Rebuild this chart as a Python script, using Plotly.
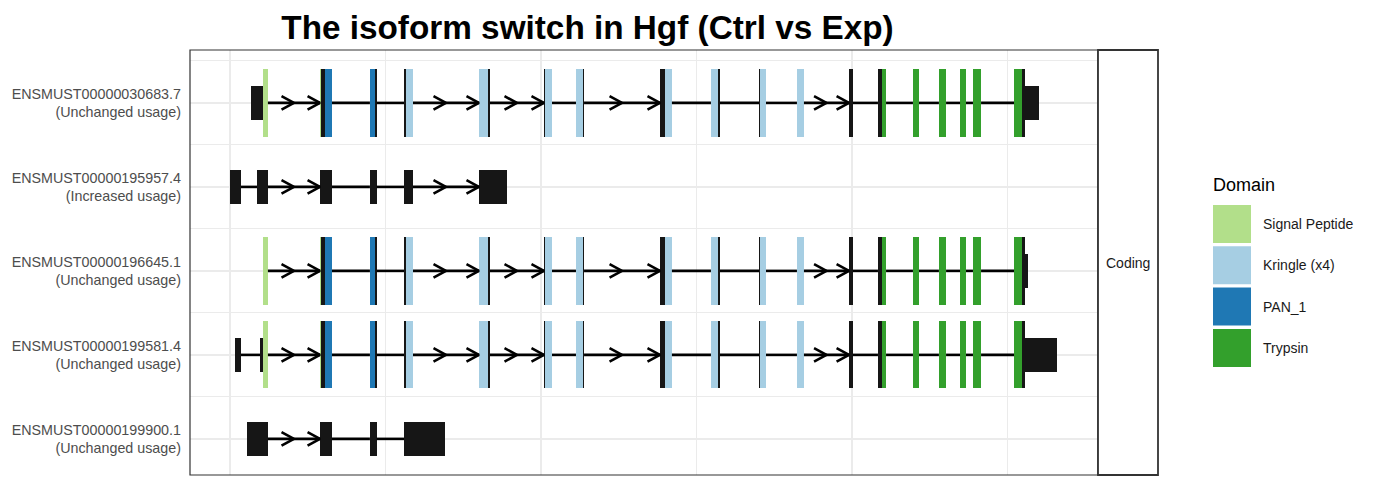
import plotly.graph_objects as go

# transcripts, top to bottom
transcript_ids = ["ENSMUST00000030683.7", "ENSMUST00000195957.4", "ENSMUST00000196645.1",
                  "ENSMUST00000199581.4", "ENSMUST00000199900.1"]
usage = ["Unchanged usage", "Increased usage", "Unchanged usage",
         "Unchanged usage", "Unchanged usage"]

# exon coordinates (kb, introns rescaled)
core_exons = [(5.79, 6.56), (9.00, 9.43), (11.19, 11.77), (16.01, 16.72), (20.19, 20.71),
              (22.25, 22.77), (27.65, 28.42), (30.93, 31.51), (34.02, 34.47), (36.46, 36.91),
              (39.81, 40.06), (41.67, 42.19), (43.92, 44.31), (45.59, 46.05), (46.95, 47.33),
              (47.78, 48.30)]
exons_30683 = [(1.35, 2.44)] + core_exons + [(50.42, 52.03)]
exons_195957 = [(0.00, 0.71), (1.74, 2.44), (5.79, 6.56), (9.00, 9.43), (11.19, 11.77),
                (16.01, 17.81)]
exons_196645 = [(2.12, 2.44)] + core_exons + [(50.42, 51.32)]
exons_199581 = [(0.32, 0.71), (1.93, 2.44)] + core_exons + [(50.42, 53.18)]
exons_199900 = [(1.09, 2.44), (5.79, 6.56), (9.00, 9.43), (11.19, 13.83)]
all_exons = [exons_30683, exons_195957, exons_196645, exons_199581, exons_199900]

# ORF (None = non coding)
orf_start = [2.12, None, 2.12, 2.12, None]
orf_end = [51.13, None, 51.13, 51.13, None]

# protein domains (same for all coding isoforms)
domain_names = ["Signal Peptide", "Kringle (x4)", "PAN_1", "Trypsin"]
domain_colors = ["#b2df8a", "#a6cee3", "#1f78b4", "#33a02c"]
signal_peptide = [(2.12, 2.44), (5.79, 5.85)]
kringle = [(11.32, 11.77), (16.01, 16.57), (20.28, 20.71), (22.25, 22.68),
           (27.97, 28.42), (30.93, 31.38), (34.08, 34.47), (36.46, 36.91)]
pan_1 = [(6.11, 6.56), (9.00, 9.34)]
trypsin = [(41.93, 42.19), (43.92, 44.31), (45.59, 46.05), (46.95, 47.33),
           (47.78, 48.30), (50.42, 50.93)]
domain_parts = [signal_peptide, kringle, pan_1, trypsin]

exon_col = "#161616"
arrow_min_intron = 2.7

fig = go.Figure()

# introns + direction arrows
line_x, line_y, arr_x, arr_y = [], [], [], []
for row, exons in enumerate(all_exons, start=1):
    for (a1, b1), (a2, b2) in zip(exons[:-1], exons[1:]):
        line_x += [b1, a2, None]
        line_y += [row, row, None]
        if a2 - b1 > arrow_min_intron:
            for tip in [(b1 + a2) / 2, a2]:
                arr_x += [tip - 0.8, tip, tip - 0.8, None]
                arr_y += [row - 0.08, row, row + 0.08, None]

fig.add_trace(go.Scatter(x=line_x, y=line_y, mode="lines", line=dict(color="black", width=2.6),
                         hoverinfo="skip", showlegend=False))
fig.add_trace(go.Scatter(x=arr_x, y=arr_y, mode="lines", line=dict(color="black", width=2.6),
                         hoverinfo="skip", showlegend=False))

# exons: utr (thin) and cds (thick)
utr_b, utr_l, utr_y = [], [], []
cds_b, cds_l, cds_y = [], [], []
for row, exons in enumerate(all_exons, start=1):
    s, e = orf_start[row - 1], orf_end[row - 1]
    for a, b in exons:
        if s is None:
            utr_b.append(a); utr_l.append(b - a); utr_y.append(row)
            continue
        if a < s:
            utr_b.append(a); utr_l.append(min(b, s) - a); utr_y.append(row)
        if b > e:
            utr_b.append(max(a, e)); utr_l.append(b - max(a, e)); utr_y.append(row)
        cs, ce = max(a, s), min(b, e)
        if ce > cs:
            cds_b.append(cs); cds_l.append(ce - cs); cds_y.append(row)

fig.add_trace(go.Bar(orientation="h", base=utr_b, x=utr_l, y=utr_y, width=0.4,
                     marker=dict(color=exon_col, line=dict(width=0)),
                     hoverinfo="skip", showlegend=False))
fig.add_trace(go.Bar(orientation="h", base=cds_b, x=cds_l, y=cds_y, width=0.8,
                     marker=dict(color=exon_col, line=dict(width=0)),
                     hoverinfo="skip", showlegend=False))

coding_rows = [i + 1 for i, s in enumerate(orf_start) if s is not None]
for name, col, parts in zip(domain_names, domain_colors, domain_parts):
    b_, l_, y_ = [], [], []
    for row in coding_rows:
        for a, b in parts:
            b_.append(a); l_.append(b - a); y_.append(row)
    fig.add_trace(go.Bar(orientation="h", base=b_, x=l_, y=y_, width=0.8, name=name,
                         marker=dict(color=col, line=dict(width=0)),
                         hoverinfo="skip", showlegend=False))

# page has an 8px body margin, so work in screen pixels and shift
OFF = 8
W, H = 1373 - OFF, 483 - OFF
L, R, T, B = 190, 1098, 50, 475   # panel edges on screen
def px_x(p):
    return (p - L) / (R - L)
def px_y(p):
    return (B - p) / (B - T)

grid = "#ebebeb"
fnt = "Liberation Sans, Arial, sans-serif"

fig.update_layout(
    width=W, height=H,
    margin=dict(l=L - OFF, r=1373 - R, t=T - OFF, b=483 - B, autoexpand=False),
    paper_bgcolor="white", plot_bgcolor="white",
    barmode="overlay", bargap=0,
    font=dict(family=fnt, size=14, color="#1a1a1a"),
    title=dict(text="The isoform switch in Hgf (Ctrl vs Exp)", x=(587.5 - OFF) / W,
               xanchor="center", y=1 - 19.5 / H, yanchor="middle", automargin=False,
               font=dict(family=fnt, size=33.3, color="black", weight="bold")),
    xaxis=dict(range=[-2.57, 55.82], tickvals=[0, 20, 40], showticklabels=False, ticks="",
               automargin=False,
               showgrid=True, gridcolor=grid, gridwidth=1.6, zeroline=False,
               minor=dict(tickvals=[10, 30, 50], showgrid=True, gridcolor=grid, gridwidth=0.9)),
    yaxis=dict(range=[5.43, 0.37], tickvals=list(range(1, 6)), automargin=False,
               ticktext=[f"{t}<br>({u})" for t, u in zip(transcript_ids, usage)],
               tickfont=dict(size=14.3, color="#4d4d4d"), ticks="", ticklabelstandoff=8,
               showgrid=True, gridcolor=grid, gridwidth=1.6, zeroline=False,
               minor=dict(tickvals=[0.5, 1.5, 2.5, 3.5, 4.5], showgrid=True,
                          gridcolor=grid, gridwidth=0.9)),
)

shapes = [
    dict(type="rect", xref="paper", yref="paper", x0=0, x1=1, y0=0, y1=1,
         line=dict(color="#333333", width=1.2), fillcolor="rgba(0,0,0,0)", layer="above"),
    dict(type="rect", xref="paper", yref="paper", x0=1, x1=px_x(1158), y0=0, y1=1,
         line=dict(color="#333333", width=1.8), fillcolor="white"),
]
annotations = [
    dict(text="Coding", xref="paper", yref="paper", x=px_x(1128), y=0.5, showarrow=False,
         xanchor="center", yanchor="middle", font=dict(size=14, color="#1a1a1a")),
    dict(text="Domain", xref="paper", yref="paper", x=px_x(1211), y=px_y(185), showarrow=False,
         xanchor="left", yanchor="middle", font=dict(size=18, color="black")),
]
for i, (name, col) in enumerate(zip(domain_names, domain_colors)):
    top = 205 + i * 41.3
    shapes.append(dict(type="rect", xref="paper", yref="paper", x0=px_x(1213), x1=px_x(1251),
                       y0=px_y(top + 38), y1=px_y(top), fillcolor=col, line=dict(width=0)))
    annotations.append(dict(text=name, xref="paper", yref="paper", x=px_x(1261),
                            y=px_y(top + 19), showarrow=False, xanchor="left", yanchor="middle",
                            font=dict(size=14, color="#1a1a1a")))

fig.update_layout(shapes=shapes, annotations=annotations)

fig.write_html("out.html")
